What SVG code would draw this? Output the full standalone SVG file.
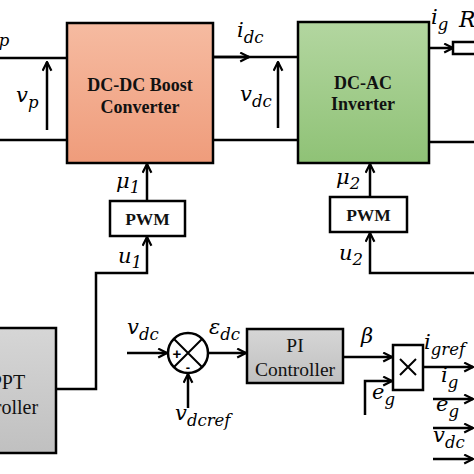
<svg xmlns="http://www.w3.org/2000/svg" width="474" height="474" viewBox="0 0 474 474">
<style>
.w{fill:none;stroke:#000;stroke-width:2.5}
.b{stroke:#000;stroke-width:2.5}
.t{font-family:"Liberation Serif",serif;font-weight:bold;font-size:18px;text-anchor:middle;fill:#111}
.p{font-family:"Liberation Serif",serif;font-weight:bold;font-size:17.5px;text-anchor:middle;fill:#111}
.r{font-family:"Liberation Serif",serif;font-size:20px;text-anchor:middle;fill:#111}
.m{font-family:"DejaVu Serif",serif;font-style:italic;font-size:21px;fill:#000}
.s{font-size:16.5px}
</style>
<defs>
<marker id="a" viewBox="0 0 10 10" refX="9" refY="5" markerWidth="11" markerHeight="11" markerUnits="userSpaceOnUse" orient="auto">
<path d="M1,1 L9,5 L1,9" fill="none" stroke="#000" stroke-width="2"/>
</marker>
<linearGradient id="gs" x1="0" y1="0" x2="0" y2="1"><stop offset="0" stop-color="#f6bba1"/><stop offset="1" stop-color="#ef9c7b"/></linearGradient>
<linearGradient id="gg" x1="0" y1="0" x2="0" y2="1"><stop offset="0" stop-color="#b3d6a0"/><stop offset="1" stop-color="#8fc276"/></linearGradient>
<linearGradient id="gr" x1="0" y1="0" x2="0" y2="1"><stop offset="0" stop-color="#d6d6d6"/><stop offset="1" stop-color="#c0c0c0"/></linearGradient>
</defs>

<g id="connectors">
<path class="w" d="M0,58 H67 M0,140 H67"/>
<path class="w" d="M47,130 V62" marker-end="url(#a)"/>
<path class="w" d="M213,57 H298 M213,140 H298"/>
<path class="w" d="M213,57 H249" marker-end="url(#a)"/>
<path class="w" d="M278,128 V62" marker-end="url(#a)"/>
<path class="w" d="M429,48 H453" marker-end="url(#a)"/>
<path class="w" d="M429,142 H474"/>
<path class="w" d="M147,201 V164" marker-end="url(#a)"/>
<path class="w" d="M56,389 H96 V273 H147 V237" marker-end="url(#a)"/>
<path class="w" d="M370,197 V164" marker-end="url(#a)"/>
<path class="w" d="M474,273 H370 V233" marker-end="url(#a)"/>
<path class="w" d="M127,353 H167" marker-end="url(#a)"/>
<path class="w" d="M188,408 V374" marker-end="url(#a)"/>
<path class="w" d="M209,353 H246" marker-end="url(#a)"/>
<path class="w" d="M343,357 H392" marker-end="url(#a)"/>
<path class="w" d="M365,415 V381 H392" marker-end="url(#a)"/>
<path class="w" d="M423,367 H473" marker-end="url(#a)"/>
<path class="w" d="M433,399 H473" marker-end="url(#a)"/>
<path class="w" d="M433,428 H473" marker-end="url(#a)"/>
<path class="w" d="M433,459 H473" marker-end="url(#a)"/>
</g>

<g id="boost">
<rect x="67" y="23" width="146" height="140" fill="url(#gs)" class="b"/>
<text class="t" x="140" y="91">DC-DC Boost</text>
<text class="t" x="140" y="113">Converter</text>
</g>
<g id="inverter">
<rect x="298" y="22" width="131" height="141" fill="url(#gg)" class="b"/>
<text class="t" x="363" y="89">DC-AC</text>
<text class="t" x="363" y="110">Inverter</text>
</g>
<g id="resistor">
<rect x="453" y="42" width="30" height="12" fill="#fff" class="b"/>
</g>
<g id="pwm1">
<rect x="110" y="201" width="75" height="35" fill="#fff" class="b"/>
<text class="p" x="147.5" y="224.5">PWM</text>
</g>
<g id="pwm2">
<rect x="330" y="197" width="77" height="35" fill="#fff" class="b"/>
<text class="p" x="368.5" y="220.5">PWM</text>
</g>
<g id="mppt">
<rect x="-10" y="328" width="66" height="125" fill="url(#gr)" class="b"/>
<text class="r" x="-1" y="389">MPPT</text>
<text class="r" x="-3" y="414">Controller</text>
</g>
<g id="sum">
<circle cx="188" cy="353" r="20" fill="#fff" class="b"/>
<path class="w" d="M174,339 L202,367 M202,339 L174,367" style="stroke-width:2"/>
<text x="177" y="359" style="font-family:'Liberation Sans',sans-serif;font-size:15px;font-weight:bold;text-anchor:middle">+</text>
<text x="188" y="372" style="font-family:'Liberation Sans',sans-serif;font-size:13px;font-weight:bold;text-anchor:middle">-</text>
</g>
<g id="pi">
<rect x="247" y="329" width="96" height="54" fill="url(#gr)" class="b"/>
<text class="r" x="295" y="352" style="font-size:19.5px">PI</text>
<text class="r" x="295" y="376" style="font-size:19.5px">Controller</text>
</g>
<g id="mult">
<rect x="393" y="345" width="30" height="45" fill="#fff" class="b"/>
<path class="w" d="M400,359 L416,375 M416,359 L400,375" style="stroke-width:2"/>
</g>

<g id="labels">
<text class="m" x="-8" y="41">i<tspan class="s" dy="5">p</tspan></text>
<text class="m" x="16" y="102">v<tspan class="s" dy="6">p</tspan></text>
<text class="m" x="237" y="37">i<tspan class="s" dy="6">dc</tspan></text>
<text class="m" x="240" y="101">v<tspan class="s" dy="6">dc</tspan></text>
<text class="m" x="431" y="24">i<tspan class="s" dy="6">g</tspan></text>
<text class="m" x="459" y="27" style="font-size:22px">R</text>
<text class="m" x="116" y="188">μ<tspan class="s" dy="5">1</tspan></text>
<text class="m" x="118" y="263">u<tspan class="s" dy="5">1</tspan></text>
<text class="m" x="336" y="184">μ<tspan class="s" dy="5">2</tspan></text>
<text class="m" x="339" y="260">u<tspan class="s" dy="5">2</tspan></text>
<text class="m" x="127" y="334">v<tspan class="s" dy="6">dc</tspan></text>
<text class="m" x="209" y="334">ε<tspan class="s" dy="6">dc</tspan></text>
<text class="m" x="175" y="420">v<tspan class="s" dy="6">dcref</tspan></text>
<text class="m" x="361" y="343">β</text>
<text class="m" x="372" y="399">e<tspan class="s" dy="6">g</tspan></text>
<text class="m" x="424" y="349">i<tspan class="s" dy="6">gref</tspan></text>
<text class="m" x="441" y="382">i<tspan class="s" dy="6">g</tspan></text>
<text class="m" x="436" y="411">e<tspan class="s" dy="6">g</tspan></text>
<text class="m" x="433" y="442">v<tspan class="s" dy="6">dc</tspan></text>
</g>
</svg>
